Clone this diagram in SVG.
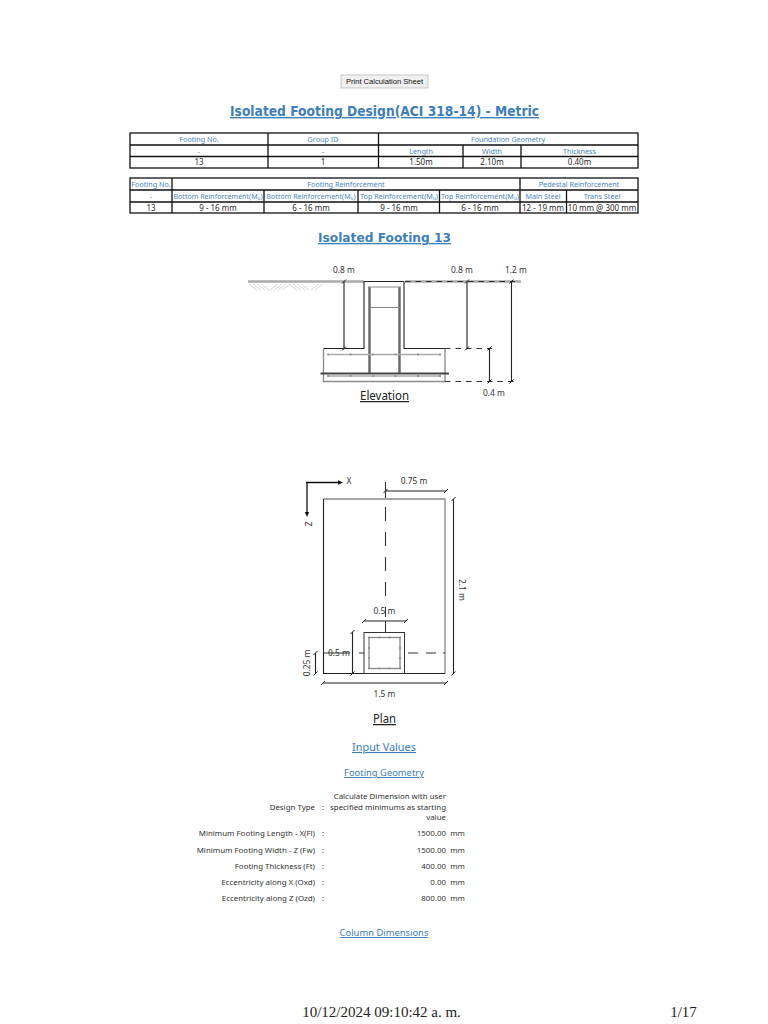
<svg xmlns="http://www.w3.org/2000/svg" width="768" height="1024" viewBox="0 0 768 1024">
<style>
text{font-family:"Noto Sans","DejaVu Sans",sans-serif;fill:#222}
.t{font-size:7.200px;text-anchor:middle}
.b{fill:#4a86c0}
.d{fill:#2a2a2a;font-size:8px}
.h{font-family:"DejaVu Sans",sans-serif;font-weight:bold;fill:#3d7ebb;text-anchor:middle}
.u{fill:#3d7ebb;text-anchor:middle;text-decoration:underline}
.dim{font-size:8.400px;text-anchor:middle;fill:#333}
.l{font-size:7.900px;text-anchor:end;fill:#333}
.grid{fill:none;stroke:#111;stroke-width:1.300}
.ln{fill:none;stroke:#222;stroke-width:1.100}
.gr{fill:none;stroke:#8a8a8a;stroke-width:1.300}
.dash{fill:none;stroke:#333;stroke-width:1.200;stroke-dasharray:5.500 5}
.tick{fill:none;stroke:#222;stroke-width:1}
.dot{fill:#888}
</style>
<rect width="768" height="1024" fill="#fff"/>
<g id="print-button">
<rect x="341" y="75" width="87" height="13" fill="#f0f0f0" stroke="#bbb" stroke-width="0.8"/>
<text x="384.500" y="84" style="font-family:'Liberation Sans',sans-serif;font-size:7.600px;text-anchor:middle;fill:#111">Print Calculation Sheet</text>
</g>
<text class="h" x="384.500" y="116" font-size="13.800" text-decoration="underline" textLength="309" lengthAdjust="spacingAndGlyphs">Isolated Footing Design(ACI 318-14) - Metric</text>
<g id="table-geometry">
<rect class="grid" x="130" y="133" width="508" height="35"/>
<path class="grid" d="M130 145H638M130 156.500H638M268 133V168M378.500 133V168M463 145V168M521 145V168"/>
<text class="t b" x="199" y="142">Footing No.</text>
<text class="t b" x="323" y="142">Group ID</text>
<text class="t b" x="508" y="142">Foundation Geometry</text>
<text class="t b" x="199" y="153.500">-</text>
<text class="t b" x="323" y="153.500">-</text>
<text class="t b" x="421" y="153.500">Length</text>
<text class="t b" x="492" y="153.500">Width</text>
<text class="t b" x="579.500" y="153.500">Thickness</text>
<text class="t d" x="199" y="165">13</text>
<text class="t d" x="323" y="165">1</text>
<text class="t d" x="421" y="165">1.50m</text>
<text class="t d" x="492" y="165">2.10m</text>
<text class="t d" x="579.500" y="165">0.40m</text>
</g>
<g id="table-reinforcement">
<rect class="grid" x="130" y="178" width="508" height="35"/>
<path class="grid" d="M130 190H638M130 202H638M172 178V213M264 190V213M358 190V213M439.500 190V213M520 178V213M566.500 190V213"/>
<text class="t b" x="151" y="187">Footing No.</text>
<text class="t b" x="346" y="187">Footing Reinforcement</text>
<text class="t b" x="579" y="187">Pedestal Reinforcement</text>
<text class="t b" x="151" y="199">-</text>
<text class="t b" x="218" y="199" textLength="89" lengthAdjust="spacingAndGlyphs">Bottom Reinforcement(Mᵤ)</text>
<text class="t b" x="311" y="199" textLength="89" lengthAdjust="spacingAndGlyphs">Bottom Reinforcement(Mᵤ)</text>
<text class="t b" x="399" y="199" textLength="78" lengthAdjust="spacingAndGlyphs">Top Reinforcement(Mᵤ)</text>
<text class="t b" x="480" y="199" textLength="78" lengthAdjust="spacingAndGlyphs">Top Reinforcement(Mᵤ)</text>
<text class="t b" x="543" y="199">Main Steel</text>
<text class="t b" x="602" y="199">Trans Steel</text>
<text class="t d" x="151" y="211">13</text>
<text class="t d" x="218" y="211">9 - 16 mm</text>
<text class="t d" x="311" y="211">6 - 16 mm</text>
<text class="t d" x="399" y="211">9 - 16 mm</text>
<text class="t d" x="480" y="211">6 - 16 mm</text>
<text class="t d" x="543" y="211">12 - 19 mm</text>
<text class="t d" x="602" y="211">10 mm @ 300 mm</text>
</g>
<text class="h" x="384.500" y="242" font-size="13" text-decoration="underline" textLength="133" lengthAdjust="spacingAndGlyphs">Isolated Footing 13</text>
<g id="elevation">
<path d="M248 281.500H364M405 281.500H521" fill="none" stroke="#aaa" stroke-width="2.400"/>
<path d="M249 284l8 6M253 284l8 6M257 284l8 6M261 284l8 6M278 284l-8 6M282 284l-8 6M286 284l-8 6M290 284l-8 6M289 284l8 6M293 284l8 6M297 284l8 6M301 284l8 6M323 284l-8 6M319 284l-8 6" fill="none" stroke="#ccc" stroke-width="0.800"/>
<path class="ln" d="M364 281.500H404M364 281.500V348.500H323.500M404 281.500V348.500H445"/>
<path class="gr" d="M323.500 348.500V381.500H445V348.500"/>
<path d="M369.500 287V373M399.500 287V373" fill="none" stroke="#666" stroke-width="2.400"/>
<path d="M368 287H401M368 307.500H401" fill="none" stroke="#888" stroke-width="1"/>
<path d="M328 354.500H441M328 376H441" fill="none" stroke="#aaa" stroke-width="1.300"/>
<path d="M320.500 373.500H449" fill="none" stroke="#444" stroke-width="2"/>
<g class="dot"><circle cx="328" cy="354.500" r="1"/><circle cx="350.500" cy="354.500" r="1"/><circle cx="373" cy="354.500" r="1"/><circle cx="395.500" cy="354.500" r="1"/><circle cx="418" cy="354.500" r="1"/><circle cx="440" cy="354.500" r="1"/><circle cx="328" cy="376" r="1"/><circle cx="350.500" cy="376" r="1"/><circle cx="373" cy="376" r="1"/><circle cx="395.500" cy="376" r="1"/><circle cx="418" cy="376" r="1"/><circle cx="440" cy="376" r="1"/></g>
<path d="M405 281.500H515M445 348.500H492M445 381.500H515" class="dash"/>
<path class="ln" d="M344 281.500V348.500M467 281.500V348.500M511.500 281.500V381.500M489.500 348.500V381.500"/>
<path class="tick" d="M342 283.500l4-4M342 350.500l4-4M465 283.500l4-4M465 350.500l4-4M509.500 283.500l4-4M509.500 383.500l4-4M487.500 350.500l4-4M487.500 383.500l4-4"/>
<text class="dim" x="344" y="273">0.8 m</text>
<text class="dim" x="462" y="273">0.8 m</text>
<text class="dim" x="516" y="273">1.2 m</text>
<text class="dim" x="494" y="396">0.4 m</text>
<text x="384.500" y="400" font-size="12.500" text-anchor="middle" text-decoration="underline" textLength="49" lengthAdjust="spacingAndGlyphs">Elevation</text>
</g>
<g id="plan">
<path d="M323.500 499H445V673.500" fill="none" stroke="#888" stroke-width="1.300"/>
<path class="ln" d="M323.500 499V673.500H445"/>
<path d="M385.500 482V498M385.500 507V521M385.500 532V546M385.500 557V571M385.500 582V596M385.500 607V617M323 653H350M359 653H364M408 653H418M426 653H436M443 653H445" fill="none" stroke="#333" stroke-width="1.100"/>
<path d="M385.500 621V632" fill="none" stroke="#333" stroke-width="1.100"/>
<path d="M306 482.500H341" fill="none" stroke="#111" stroke-width="1.300"/>
<path d="M343 482.500l-5-2.200v4.400z" fill="#111"/>
<path d="M307 482.500V512" fill="none" stroke="#111" stroke-width="1.300"/>
<path d="M307 517l-2.200-5h4.400z" fill="#111"/>
<text class="dim" x="349" y="484">X</text>
<text class="dim" transform="translate(304.500 524) rotate(90)">Z</text>
<path class="ln" d="M385.500 491H446M453.500 499V673.500M364 621H406M352.500 632V673.500M315.500 653V673.500M323 683H446"/>
<path class="tick" d="M383.500 493l4-4M444 493l4-4M451.500 501l4-4M451.500 675.500l4-4M362 623l4-4M404 623l4-4M350.500 634l4-4M350.500 675.500l4-4M313.500 655l4-4M313.500 675.500l4-4M321 685l4-4M444 685l4-4"/>
<rect x="364" y="632.500" width="40.500" height="41" fill="#fff" stroke="#333" stroke-width="1"/>
<rect x="369" y="637.500" width="31" height="31" fill="none" stroke="#888" stroke-width="1.300"/>
<g class="dot"><circle cx="369" cy="637.500" r="1"/><circle cx="379.500" cy="637.500" r="1"/><circle cx="389.500" cy="637.500" r="1"/><circle cx="400" cy="637.500" r="1"/><circle cx="369" cy="668.500" r="1"/><circle cx="379.500" cy="668.500" r="1"/><circle cx="389.500" cy="668.500" r="1"/><circle cx="400" cy="668.500" r="1"/><circle cx="369" cy="648" r="1"/><circle cx="369" cy="658" r="1"/><circle cx="400" cy="648" r="1"/><circle cx="400" cy="658" r="1"/></g>
<text class="dim" x="384.500" y="614">0.5 m</text>
<text class="dim" x="339" y="656">0.5 m</text>
<text class="dim" x="384.500" y="697">1.5 m</text>
<text class="dim" transform="translate(459 590) rotate(90)">2.1 m</text>
<text class="dim" transform="translate(310 663) rotate(-90)">0.25 m</text>
<text class="dim" x="414" y="484">0.75 m</text>
<text x="384.500" y="723" font-size="12.500" text-anchor="middle" text-decoration="underline" textLength="23" lengthAdjust="spacingAndGlyphs">Plan</text>
</g>
<g id="input-values">
<text class="u" x="384" y="751" font-size="10.900">Input Values</text>
<text class="u" x="384" y="776" font-size="9.400">Footing Geometry</text>
<text class="l" x="446" y="799">Calculate Dimension with user</text>
<text class="l" x="446" y="809.500">specified minimums as starting</text>
<text class="l" x="446" y="820">value</text>
<text class="l" x="315" y="810">Design Type</text><text class="l" x="324" y="810">:</text>
<text class="l" x="315" y="836">Minimum Footing Length - X(Fl)</text><text class="l" x="324" y="836">:</text>
<text class="l" x="446" y="836">1500.00</text><text class="l" x="465" y="836">mm</text>
<text class="l" x="315" y="852.500">Minimum Footing Width - Z (Fw)</text><text class="l" x="324" y="852.500">:</text>
<text class="l" x="446" y="852.500">1500.00</text><text class="l" x="465" y="852.500">mm</text>
<text class="l" x="315" y="869">Footing Thickness (Ft)</text><text class="l" x="324" y="869">:</text>
<text class="l" x="446" y="869">400.00</text><text class="l" x="465" y="869">mm</text>
<text class="l" x="315" y="885">Eccentricity along X (Oxd)</text><text class="l" x="324" y="885">:</text>
<text class="l" x="446" y="885">0.00</text><text class="l" x="465" y="885">mm</text>
<text class="l" x="315" y="901">Eccentricity along Z (Ozd)</text><text class="l" x="324" y="901">:</text>
<text class="l" x="446" y="901">800.00</text><text class="l" x="465" y="901">mm</text>
<text class="u" x="384" y="936" font-size="9.400">Column Dimensions</text>
</g>
<g id="footer">
<text x="381.500" y="1017" style="font-family:'Liberation Serif',serif;font-size:15px;text-anchor:middle;fill:#222">10/12/2024 09:10:42 a. m.</text>
<text x="683.500" y="1017" style="font-family:'Liberation Serif',serif;font-size:15px;text-anchor:middle;fill:#222">1/17</text>
</g>
</svg>
